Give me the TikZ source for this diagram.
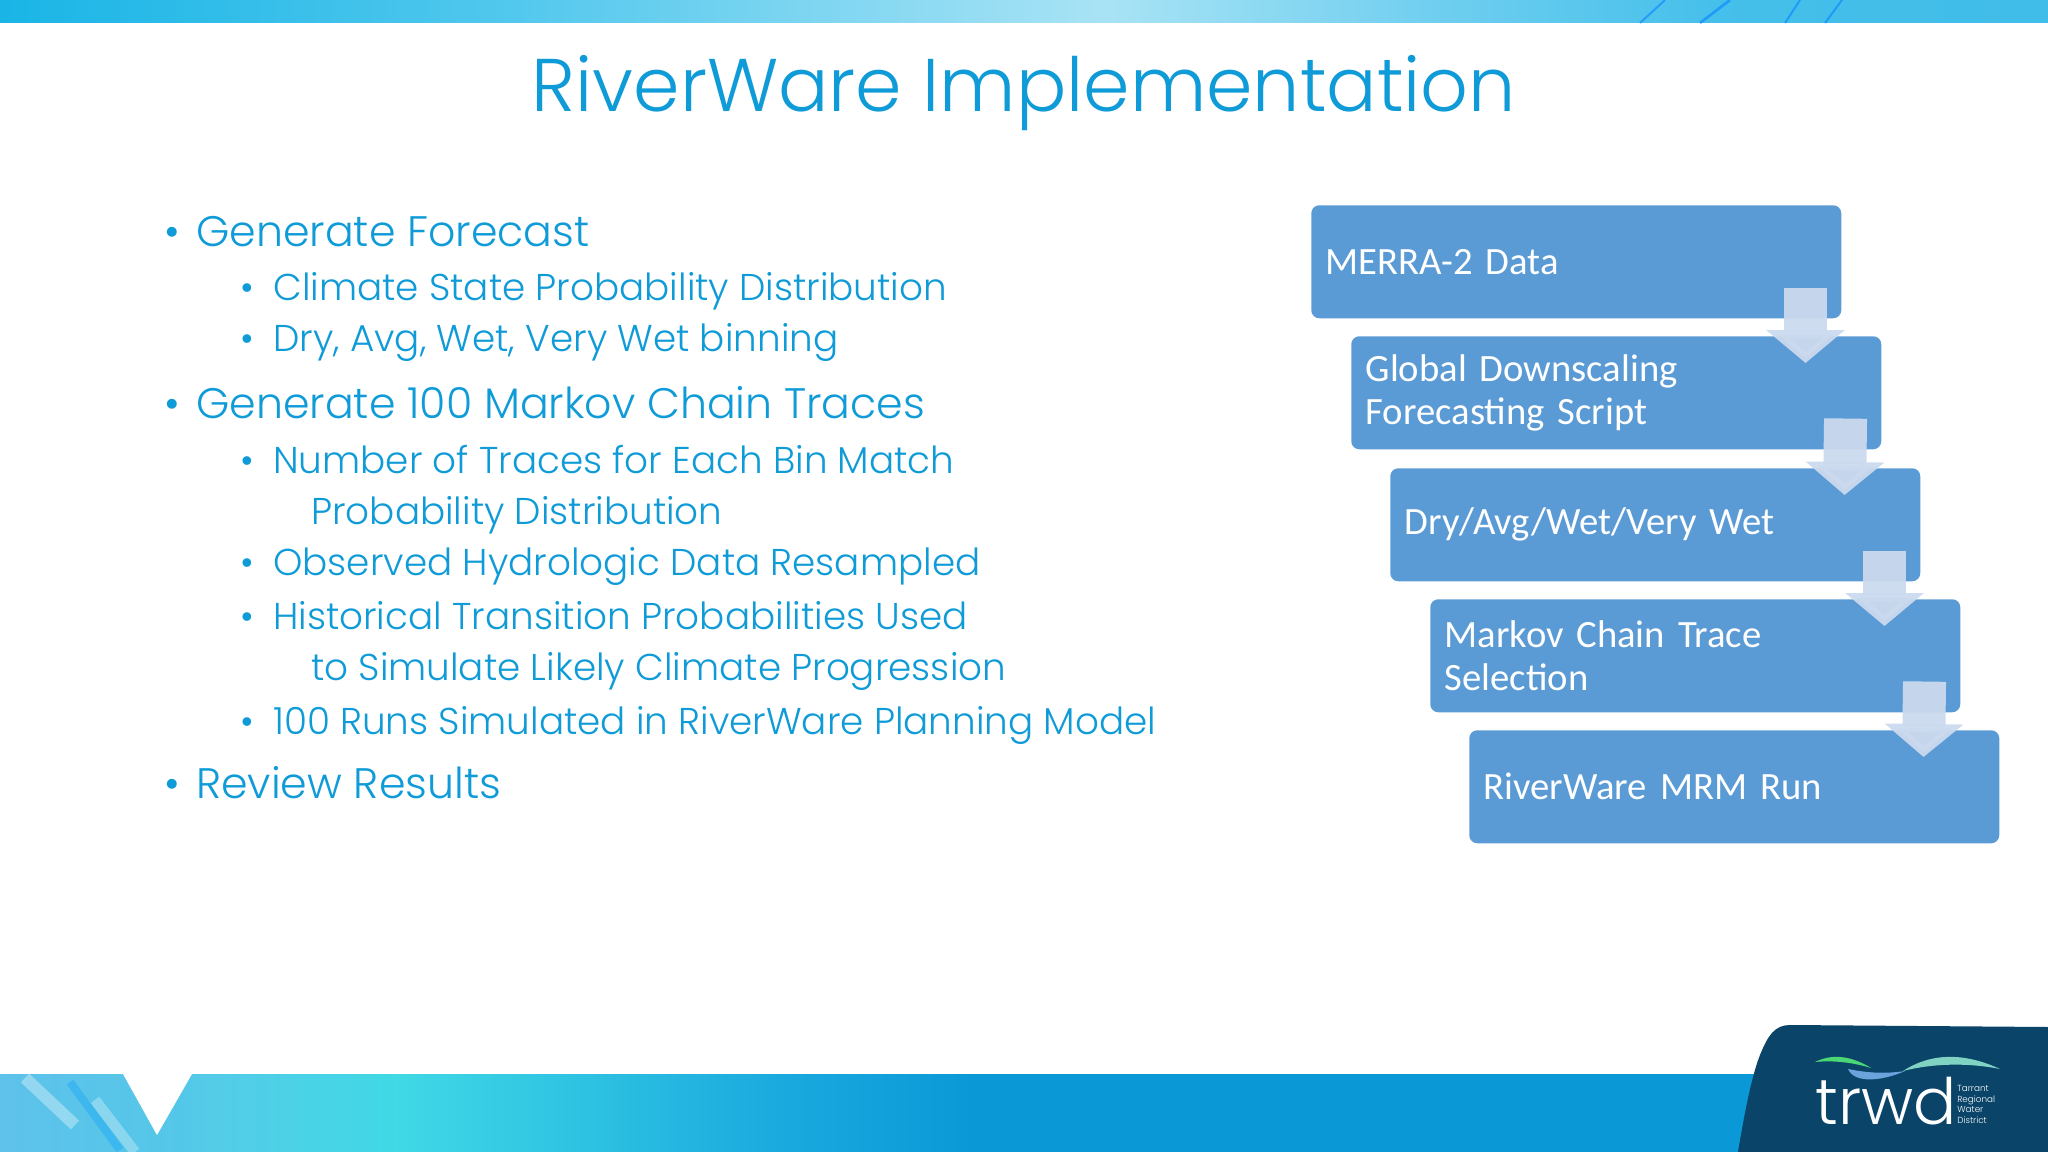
\documentclass[tikz,border=0pt]{standalone}
\usepackage{fontspec}
\usepackage{xcolor}
\usetikzlibrary{arrows.meta,calc}
\setmainfont{Poppins Light}
\newfontfamily\boxfont{Carlito}
\definecolor{slideblue}{HTML}{0F9BD7}
\definecolor{boxblue}{HTML}{5B9BD5}
\definecolor{arrowblue}{HTML}{CBDAEE}
\definecolor{logonavy}{HTML}{0A4468}
\pgfdeclarehorizontalshading{topbandfill}{100bp}{rgb(0bp)=(0.10,0.71,0.90); rgb(25bp)=(0.10,0.71,0.90); rgb(37bp)=(0.31,0.78,0.93); rgb(52bp)=(0.66,0.89,0.96); rgb(60bp)=(0.44,0.81,0.94); rgb(67bp)=(0.27,0.75,0.92); rgb(75bp)=(0.25,0.74,0.91); rgb(100bp)=(0.25,0.74,0.91)}
\pgfdeclarehorizontalshading{bottomband}{100bp}{rgb(0bp)=(0.37,0.76,0.92); rgb(25bp)=(0.37,0.76,0.92); rgb(30bp)=(0.33,0.78,0.91); rgb(31bp)=(0.33,0.80,0.91); rgb(36bp)=(0.25,0.85,0.90); rgb(47bp)=(0.10,0.66,0.87); rgb(52bp)=(0.04,0.60,0.84); rgb(75bp)=(0.04,0.60,0.84); rgb(100bp)=(0.04,0.60,0.84)}
\tikzset{
  itemone/.style={anchor=base west,inner sep=0.75pt,text=slideblue,font=\fontsize{32}{38}\selectfont},
  itemtwo/.style={anchor=base west,inner sep=0.75pt,text=slideblue,font=\fontsize{28}{34}\selectfont},
  flowbox/.style={anchor=north west,fill=boxblue,text=white,rounded corners=6pt,minimum width=397.5pt,minimum height=84.75pt,text width=376pt,inner sep=0pt,align=left,font=\boxfont\fontsize{29}{32.5}\selectfont},
  flowarrow/.style={draw=arrowblue,line width=32.25pt,-{Triangle[width=57.75pt,length=24.75pt]},opacity=0.95},
  smalllogo/.style={anchor=base west,inner sep=0pt,text=white,font=\fontsize{6.6}{8}\selectfont}
}
\begin{document}
\begin{tikzpicture}[x=0.75pt,y=0.75pt,yscale=-1,xscale=1]
\useasboundingbox (0,0) rectangle (2048,1152);

%Bands
\shade [shading=topbandfill] (0,0) rectangle (2048,23);
\shade [shading=bottomband] (0,1074) rectangle (1800,1152);
\fill [white] (123,1074) -- (157,1135) -- (192,1074) -- cycle;
%Strokes in the bands
\draw [white,opacity=0.35,line width=9pt] (25,1078) -- (75,1125);
\draw [white,opacity=0.3,line width=8pt] (95,1100) -- (135,1152);
\draw [blue!40!cyan,opacity=0.3,line width=6pt] (70,1082) -- (120,1150);
\draw [blue!50!cyan,opacity=0.55,line width=1.5pt] (1640,23) -- (1665,0);
\draw [blue!50!cyan,opacity=0.55,line width=2pt] (1700,23) -- (1730,0);
\draw [blue!50!cyan,opacity=0.55,line width=1.5pt] (1785,23) -- (1800,0);
\draw [blue!50!cyan,opacity=0.55,line width=1.5pt] (1825,23) -- (1842,0);

%Logo panel
\fill [logonavy] (1738,1152) .. controls (1745,1110) and (1752,1075) .. (1760,1055) .. controls (1768,1035) and (1775,1025) .. (1790,1025) -- (2048,1027) -- (2048,1152) -- cycle;
\fill [green!55!teal!70!white] (1815,1062) .. controls (1835,1052) and (1855,1058) .. (1871,1068) .. controls (1855,1063) and (1835,1060) .. (1815,1062) -- cycle;
\fill [cyan!60!blue!60!white] (1848,1069) .. controls (1868,1073) and (1885,1074) .. (1905,1071) .. controls (1885,1080) and (1855,1085) .. (1848,1069) -- cycle;
\fill [cyan!50!green!50!white] (1903,1071) .. controls (1935,1050) and (1970,1055) .. (2000,1069) .. controls (1965,1062) and (1930,1064) .. (1903,1071) -- cycle;
\node (logoname) at (1886,1101) [inner sep=0pt,text=white,font=\fontsize{48}{48}\selectfont] {trwd};
\node (logoa) at (1957,1091) [smalllogo] {Tarrant};
\node (logob) at (1957,1102) [smalllogo] {Regional};
\node (logoc) at (1957,1112) [smalllogo] {Water};
\node (logod) at (1957,1123) [smalllogo] {District};

% Title
\node (title) at (1024,93) [inner sep=0pt,text=slideblue,font=\fontsize{56}{66}\selectfont] {RiverWare Implementation};

% Text Node
\node (gena) at (195,246) [itemone] {Generate Forecast};
\node (genb) at (272,300) [itemtwo] {Climate State Probability Distribution};
\node (genc) at (272,351) [itemtwo] {Dry, Avg, Wet, Very Wet binning};
\node (mara) at (195,418) [itemone] {Generate 100 Markov Chain Traces};
\node (marb) at (272,473) [itemtwo] {Number of Traces for Each Bin Match};
\node (marc) at (310,524) [itemtwo] {Probability Distribution};
\node (mard) at (272,575) [itemtwo] {Observed Hydrologic Data Resampled};
\node (mare) at (272,629) [itemtwo] {Historical Transition Probabilities Used};
\node (marf) at (310,680) [itemtwo] {to Simulate Likely Climate Progression};
\node (marg) at (272,734) [itemtwo] {100 Runs Simulated in RiverWare Planning Model};
\node (reva) at (195,798) [itemone] {Review Results};
% Bullets
\node (dota) at (163,246) [itemone] {•};
\node (dotb) at (239,300) [itemtwo] {•};
\node (dotc) at (239,351) [itemtwo] {•};
\node (dotd) at (163,418) [itemone] {•};
\node (dote) at (239,473) [itemtwo] {•};
\node (dotf) at (239,575) [itemtwo] {•};
\node (dotg) at (239,629) [itemtwo] {•};
\node (doth) at (239,734) [itemtwo] {•};
\node (doti) at (163,798) [itemone] {•};

%Flow boxes
\node (merra) at (1311,205) [flowbox] {MERRA-2 Data};
\node (global) at (1351,336) [flowbox] {Global Downscaling\\Forecasting Script};
\node (bins) at (1390,468) [flowbox] {Dry/Avg/Wet/Very Wet};
\node (markov) at (1430,599) [flowbox] {Markov Chain Trace\\Selection};
\node (run) at (1469,730) [flowbox] {RiverWare MRM Run};

%Block arrows
\draw [flowarrow] ($(merra.south east)+(-36,-31)$) -- ($(global.north east)+(-76,27)$);
\draw [flowarrow] ($(global.south east)+(-36,-31)$) -- ($(bins.north east)+(-76,27)$);
\draw [flowarrow] ($(bins.south east)+(-36,-31)$) -- ($(markov.north east)+(-76,27)$);
\draw [flowarrow] ($(markov.south east)+(-36,-31)$) -- ($(run.north east)+(-76,27)$);

\end{tikzpicture}
\end{document}
